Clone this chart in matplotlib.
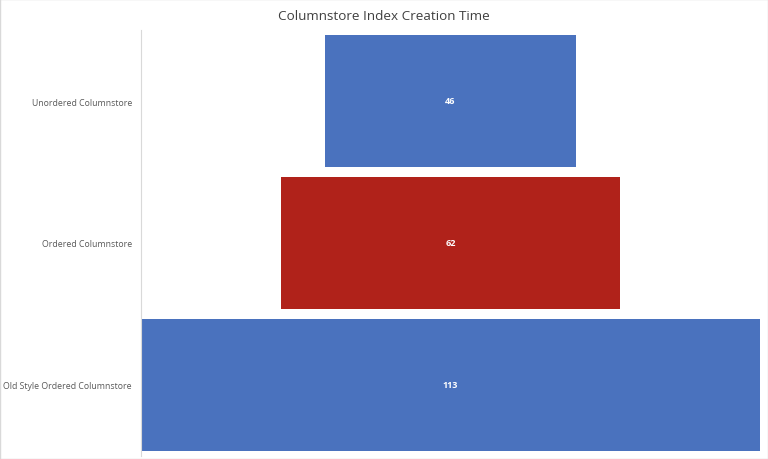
import matplotlib.pyplot as plt
from matplotlib.patches import Rectangle

# Dados
categorias = ['Unordered Columnstore', 'Ordered Columnstore', 'Old Style Ordered Columnstore']
valores = [46, 62, 113]
cores = ['#4a72be', '#b0221a', '#4a72be']

plt.rcParams['font.family'] = ['Open Sans', 'DejaVu Sans']

fig = plt.figure(figsize=(7.68, 4.6), dpi=100)
ax = fig.add_axes([141 / 768, 1 - 457 / 460, (760 - 141) / 768, 426 / 460])

maximo = max(valores)
esquerdas = [(maximo - v) / 2 for v in valores]
ax.barh(range(len(valores)), valores, left=esquerdas, height=0.93, color=cores)

for i, (v, l) in enumerate(zip(valores, esquerdas)):
    ax.text(l + v / 2, i, str(v), ha='center', va='center', color='white',
            fontsize=6.5, fontweight='bold')

ax.set_xlim(0, maximo)
ax.set_ylim(len(valores) - 0.5, -0.5)
ax.set_yticks(range(len(valores)))
ax.set_yticklabels(categorias, fontsize=6.3, color='#595959')
ax.tick_params(axis='y', length=0, pad=6.5)
ax.set_xticks([])
for lado in ['top', 'right', 'bottom']:
    ax.spines[lado].set_visible(False)
ax.spines['left'].set_color('#d9d9d9')
ax.spines['left'].set_linewidth(0.8)

fig.text(384 / 768, 1 - 16 / 460, 'Columnstore Index Creation Time', ha='center', va='center',
         fontsize=9.7, color='#404040')

# borda da figura
fig.patches.append(Rectangle((0, 0), 1, 1, transform=fig.transFigure, fill=False,
                             edgecolor='#d9d9d9', linewidth=1))

plt.savefig('out.png', dpi=100)
